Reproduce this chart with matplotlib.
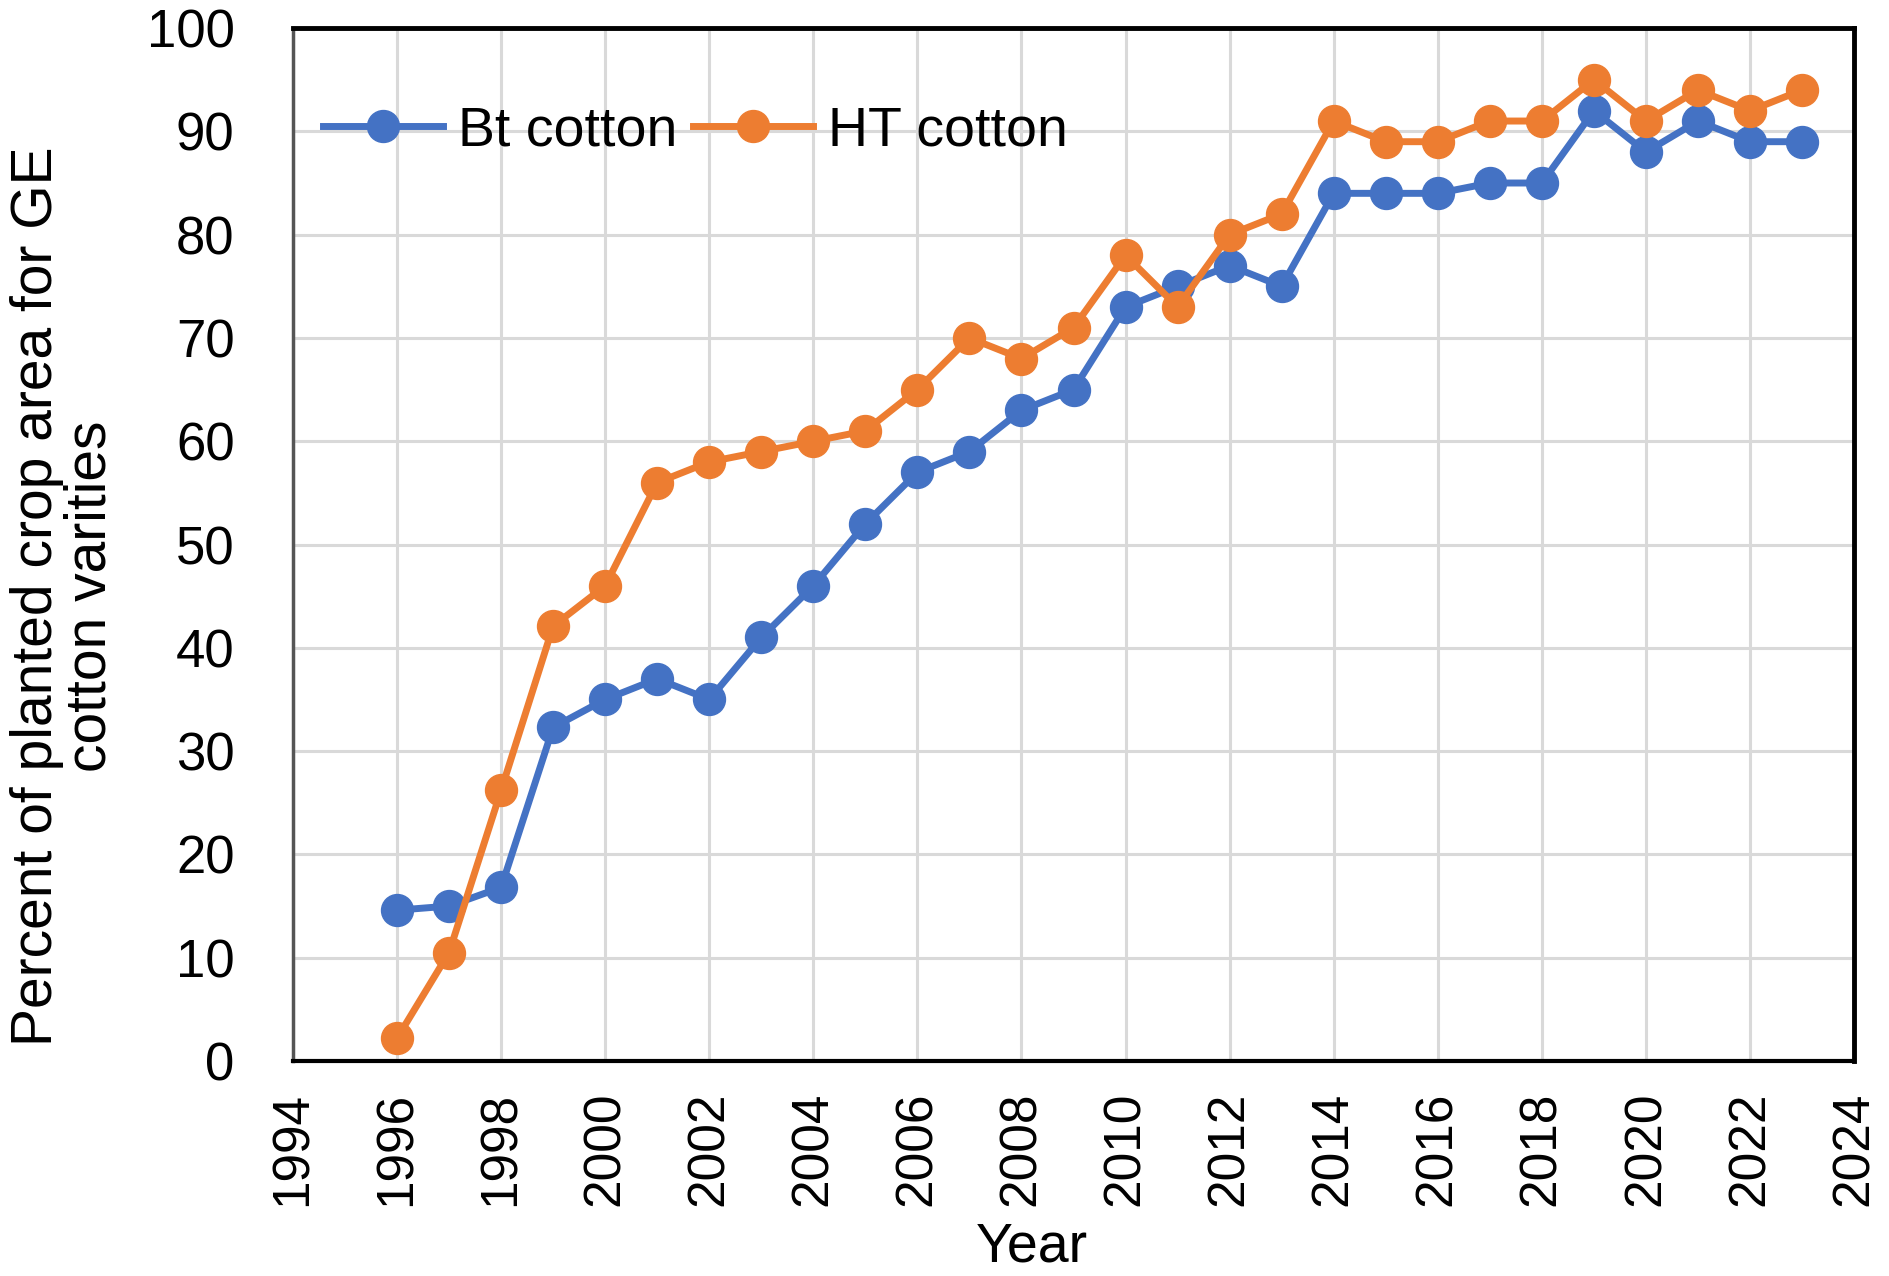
import matplotlib
matplotlib.use("Agg")
import matplotlib.pyplot as plt
from matplotlib import font_manager

years = [1996, 1997, 1998, 1999, 2000, 2001, 2002, 2003, 2004, 2005, 2006, 2007, 2008, 2009,
         2010, 2011, 2012, 2013, 2014, 2015, 2016, 2017, 2018, 2019, 2020, 2021, 2022, 2023]
bt_cotton = [14.6, 15.0, 16.8, 32.3, 35, 37, 35, 41, 46, 52, 57, 59, 63, 65,
             73, 75, 77, 75, 84, 84, 84, 85, 85, 92, 88, 91, 89, 89]
ht_cotton = [2.2, 10.5, 26.2, 42.1, 46, 56, 58, 59, 60, 61, 65, 70, 68, 71,
             78, 73, 80, 82, 91, 89, 89, 91, 91, 95, 91, 94, 92, 94]
x_ticks = list(range(1994, 2025, 2))
y_ticks = list(range(0, 101, 10))
series_names = ["Bt cotton", "HT cotton"]

names = {f.name for f in font_manager.fontManager.ttflist}
narrow = "Liberation Sans Narrow" if "Liberation Sans Narrow" in names else "Liberation Sans"

BLUE = "#4472C4"
ORANGE = "#ED7D31"

fig = plt.figure(figsize=(18.9, 12.76), dpi=100)
ax = fig.add_axes([0.155, 0.1685, 0.826, 0.8095])

ax.plot(years, bt_cotton, color=BLUE, lw=5, marker="o", ms=23, label=series_names[0], zorder=3)
ax.plot(years, ht_cotton, color=ORANGE, lw=5, marker="o", ms=23, label=series_names[1], zorder=3)

ax.set_xlim(1994, 2024)
ax.set_ylim(0, 100)
ax.set_xticks(x_ticks)
ax.set_yticks(y_ticks)
ax.set_xticklabels([str(t) for t in x_ticks], rotation=90, fontsize=37, family="Liberation Sans")
ax.set_yticklabels([str(t) for t in y_ticks], fontsize=38, family=narrow)
ax.tick_params(axis="both", length=0)
ax.tick_params(axis="x", pad=22)
ax.tick_params(axis="y", pad=42)

ax.grid(True, color="#D9D9D9", lw=2.2, zorder=0)
ax.set_axisbelow(True)

for s in ["top", "right"]:
    ax.spines[s].set_linewidth(3.5)
    ax.spines[s].set_color("black")
ax.spines["left"].set_linewidth(2.5)
ax.spines["left"].set_color("#555555")
ax.spines["bottom"].set_linewidth(3)
ax.spines["bottom"].set_color("black")

fig.text(0.0336, 0.533, "Percent of planted crop area for GE\ncotton varities", fontsize=41,
         family="Liberation Sans", rotation=90, ha="center", va="center",
         multialignment="center", linespacing=1.0)

fig.text(0.546, 0.002, "Year", fontsize=40, family=narrow, ha="center", va="bottom")

leg = ax.legend(loc="center left", bbox_to_anchor=(0.019, 0.9), ncol=2, frameon=False,
                prop={"family": narrow, "size": 40}, handlelength=2.16, handletextpad=0.27,
                columnspacing=0.29, borderaxespad=0, borderpad=0)

fig.savefig("out.png", dpi=100, facecolor="white")
